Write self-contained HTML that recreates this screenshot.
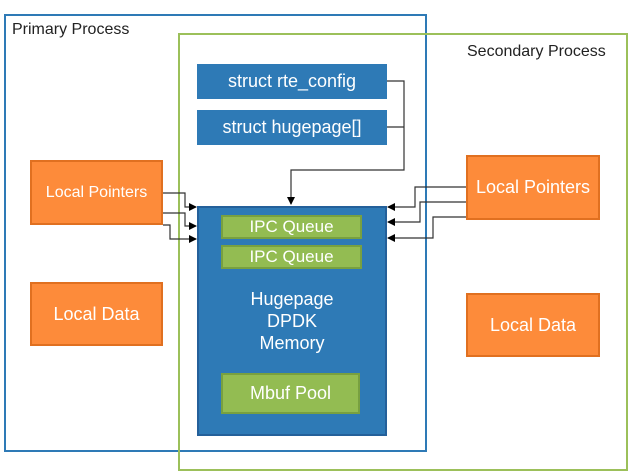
<!DOCTYPE html>
<html><head><style>
body{margin:0;width:643px;height:475px;background:#fff;position:relative;overflow:hidden;font-family:"Liberation Sans","DejaVu Sans",sans-serif}
.a{position:absolute;box-sizing:border-box;display:flex;align-items:center;justify-content:center;text-align:center}
.or{background:#fd8b3a;border:2px solid #e07020;color:#fff;font-size:18px}
.bl{background:#2e7ab6;color:#fff;font-size:17px}
.gr{background:#93bc52;border:2px solid #78a040;color:#fff;font-size:17px}
</style></head><body>
<div class="a" style="left:4px;top:14px;width:423px;height:438px;border:2px solid #2e7ab6"></div>
<div class="a" style="left:178px;top:33px;width:450px;height:438px;border:2px solid #9cc05a"></div>
<div style="position:absolute;left:12px;top:21px;font-size:16px;color:#222">Primary Process</div>
<div style="position:absolute;left:467px;top:43px;font-size:16px;color:#222">Secondary Process</div>
<div class="a bl" style="left:197px;top:64px;width:190px;height:35px;font-size:18px">struct rte_config</div>
<div class="a bl" style="left:197px;top:110px;width:190px;height:35px;font-size:18px">struct hugepage[]</div>
<div class="a or" style="left:30px;top:160px;width:133px;height:65px;font-size:16px">Local Pointers</div>
<div class="a or" style="left:30px;top:282px;width:133px;height:64px">Local Data</div>
<div class="a or" style="left:466px;top:155px;width:134px;height:65px">Local Pointers</div>
<div class="a or" style="left:466px;top:293px;width:134px;height:64px">Local Data</div>
<div class="a bl" style="left:197px;top:206px;width:190px;height:230px;border:2px solid #24609a;flex-direction:column;justify-content:flex-start;font-size:18px;line-height:22px">
<div style="height:80px"></div>Hugepage<br>DPDK<br>Memory</div>
<div class="a gr" style="left:221px;top:215px;width:141px;height:24px">IPC Queue</div>
<div class="a gr" style="left:221px;top:245px;width:141px;height:24px">IPC Queue</div>
<div class="a gr" style="left:221px;top:373px;width:139px;height:41px;font-size:18px">Mbuf Pool</div>
<svg width="643" height="475" style="position:absolute;left:0;top:0">
<defs><marker id="m" markerWidth="8" markerHeight="8" refX="7" refY="4" orient="auto" markerUnits="userSpaceOnUse"><path d="M0,0 L8,4 L0,8z" fill="#000"/></marker></defs>
<g fill="none" stroke="#333" stroke-width="1.2">
<path d="M387,81 H404 V170 H291 V204" marker-end="url(#m)"/>
<path d="M387,127 H404"/>
<path d="M163,193 H185 V207 H196" marker-end="url(#m)"/>
<path d="M163,213 H185 V226 H196" marker-end="url(#m)"/>
<path d="M163,225 H170 V239 H196" marker-end="url(#m)"/>
<path d="M466,187 H415 V207 H388" marker-end="url(#m)"/>
<path d="M466,202 H420 V222 H388" marker-end="url(#m)"/>
<path d="M466,217 H433 V238 H388" marker-end="url(#m)"/>
</g></svg>
</body></html>
